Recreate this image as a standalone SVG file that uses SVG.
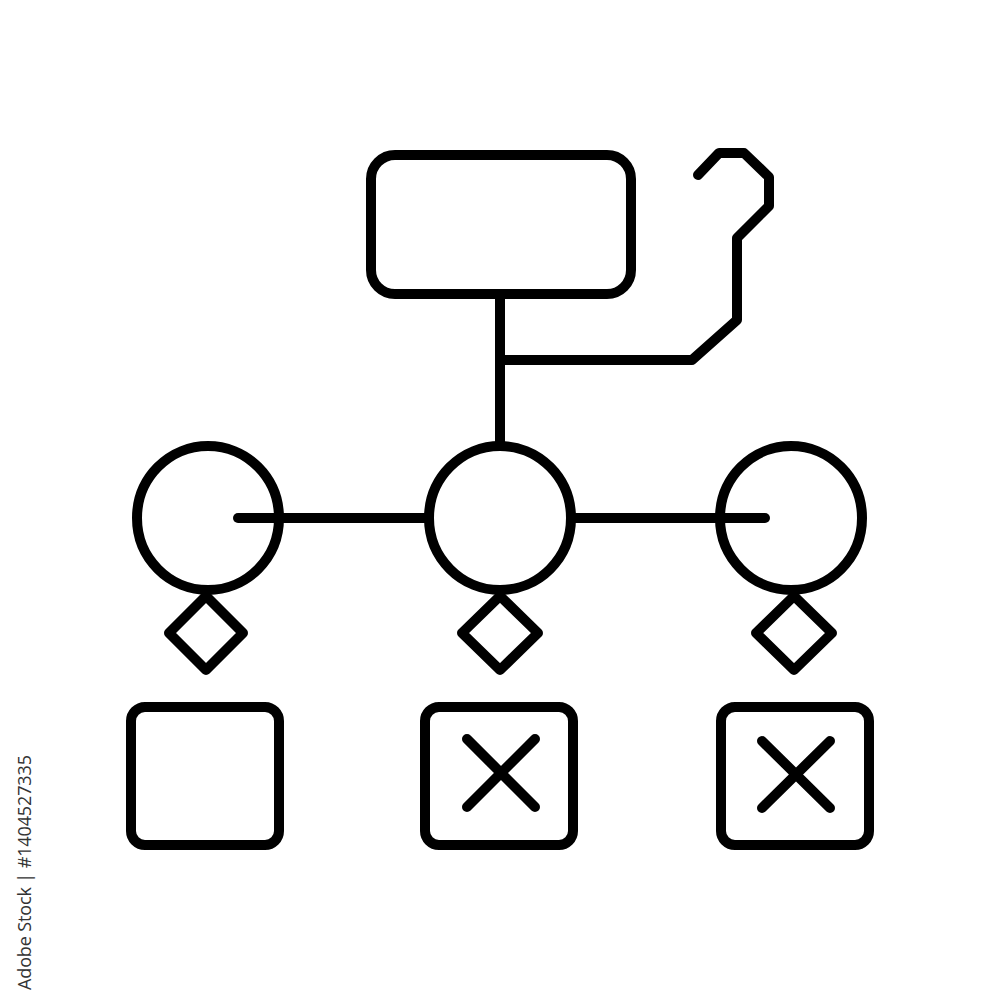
<svg xmlns="http://www.w3.org/2000/svg" width="1000" height="1000" viewBox="0 0 1000 1000">
<style>
.s{fill:none;stroke:#000;stroke-width:10;stroke-linecap:round;stroke-linejoin:round}
.w{fill:#fff;stroke:#000;stroke-width:10;stroke-linejoin:round}
.wm{font-family:"Open Sans","Liberation Sans",sans-serif;font-size:18px;fill:#333}
</style>
<rect width="1000" height="1000" fill="#fff"/>
<g id="connectors">
<path class="s" d="M500,296 V443"/>
<path class="s" d="M500,360 H692 L737,320 V238 L769,206 V177 L744,153 H719 L698,175"/>
<path class="s" d="M238,518 H765"/>
</g>
<g id="top-box"><rect class="s" x="371" y="155" width="260" height="139" rx="24"/></g>
<g id="circle-left"><ellipse class="s" cx="208" cy="518" rx="71" ry="72"/></g>
<g id="circle-mid"><ellipse class="w" cx="500" cy="518" rx="71" ry="72"/></g>
<g id="circle-right"><ellipse class="s" cx="791" cy="518" rx="71" ry="72"/></g>
<g id="diamond-left"><path class="w" d="M206,596 L243,633 L206,670 L169,633 Z"/></g>
<g id="diamond-mid"><path class="w" d="M500,596 L538,633 L500,670 L462,633 Z"/></g>
<g id="diamond-right"><path class="w" d="M794,596 L832,633 L794,670 L756,633 Z"/></g>
<g id="box-left"><rect class="s" x="131" y="707" width="148" height="138" rx="14"/></g>
<g id="box-mid"><rect class="s" x="425" y="707" width="148" height="138" rx="14"/>
<path class="s" d="M467,739 L535,807 M535,739 L467,807"/></g>
<g id="box-right"><rect class="s" x="721" y="707" width="148" height="138" rx="14"/>
<path class="s" d="M762,741 L830,808 M830,741 L762,808"/></g>
<text class="wm" transform="translate(31,990) rotate(-90)" textLength="235">Adobe Stock | #1404527335</text>
</svg>
